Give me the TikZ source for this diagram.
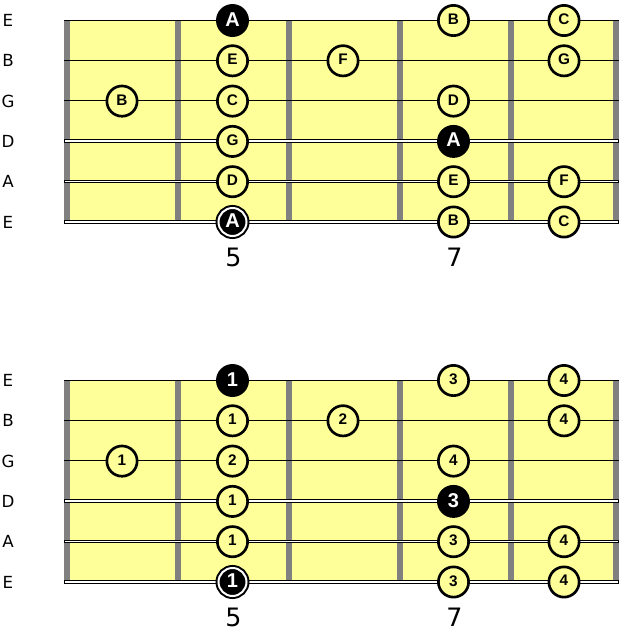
\documentclass[tikz,border=0pt]{standalone}
\usepackage{fontspec}
\setmainfont{DejaVu Sans}
\newfontfamily\notefont{Liberation Sans}
\definecolor{boardyellow}{HTML}{FFFF99}
\definecolor{fretgray}{HTML}{808080}

\begin{document}
\begin{tikzpicture}[x=0.75pt, y=-0.75pt,
    note/.style={circle, draw, line width=2pt, fill=boardyellow, minimum size=22.7pt, inner sep=0pt, text depth=2pt, font=\notefont\bfseries\fontsize{11.5}{11.5}\selectfont},
    root/.style={note, fill=black, text=white, font=\notefont\bfseries\fontsize{15}{15}\selectfont},
    lowroot/.style={root, line width=1.5pt, double=white, double distance=1.5pt, minimum size=21pt},
    strname/.style={font=\fontsize{12.5}{12.5}\selectfont},
    fretnum/.style={font=\fontsize{19}{19}\selectfont},
    thinstring/.style={line width=0.8pt},
    woundstring/.style={line width=2.6pt}]
    \useasboundingbox (0,0) rectangle (624,633);
    % two boards, note names on top and fingers below
    \foreach \oy/\b in {0/a,360/b} {
        \begin{scope}[shift={(0,\oy)}]
            \fill[boardyellow] (64,20.5) rectangle (619,222);
            \foreach \fx in {64,174.5,285.5,396.5,507.5,613}
                \fill[fretgray] (\fx,20.5) rectangle ++(6,201.5);
            \foreach \sy in {20.5,60.5,100.5}
                \draw[thinstring] (64,\sy) -- (619,\sy);
            \foreach \sy in {141,181.5,222} {
                \draw[woundstring] (64,\sy) -- (619,\sy);
                \draw[white, line width=1pt] (64.8,\sy) -- (618.2,\sy);
            }
            \foreach \n [count=\i from 0] in {E,B,G,D,A,E}
                \node[strname] (\b s\i) at (8,20.5+40.3*\i) {\n};
            \node[fretnum] (\b f5) at (233.5,257) {5};
            \node[fretnum] (\b f7) at (454.5,257) {7};
        \end{scope}
    }
    % note names
    \foreach \s/\c/\t/\st in {0/1/A/root, 0/3/B/note, 0/4/C/note, 1/1/E/note, 1/2/F/note, 1/4/G/note,
            2/0/B/note, 2/1/C/note, 2/3/D/note, 3/1/G/note, 3/3/A/root, 4/1/D/note, 4/3/E/note,
            4/4/F/note, 5/1/A/lowroot, 5/3/B/note, 5/4/C/note}
        \node[\st] (a\s\c) at (122+110.5*\c,20.5+40.3*\s) {\t};
    % fingers
    \foreach \s/\c/\t/\st in {0/1/1/root, 0/3/3/note, 0/4/4/note, 1/1/1/note, 1/2/2/note, 1/4/4/note,
            2/0/1/note, 2/1/2/note, 2/3/4/note, 3/1/1/note, 3/3/3/root, 4/1/1/note, 4/3/3/note,
            4/4/4/note, 5/1/1/lowroot, 5/3/3/note, 5/4/4/note}
        \node[\st] (b\s\c) at (122+110.5*\c,380.5+40.3*\s) {\t};
\end{tikzpicture}
\end{document}
